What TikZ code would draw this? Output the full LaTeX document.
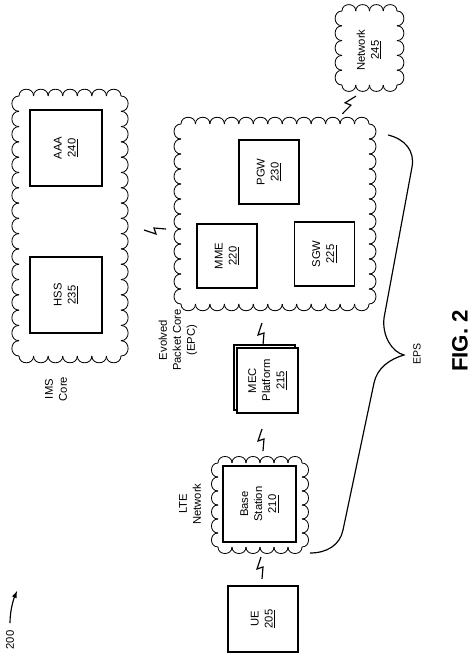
\documentclass[tikz,border=0pt]{standalone}
\usepackage{fontspec}
\setmainfont{Liberation Sans}
\usetikzlibrary{arrows,calc}

\tikzset{
  box/.style={draw, line width=1.1pt, rotate=90, align=center, inner sep=0pt, fill=white, font=\fontsize{9.6}{12}\selectfont},
  lbl/.style={rotate=90, align=center, inner sep=1pt, font=\fontsize{9.6}{12}\selectfont},
  cloudline/.style={line width=0.7pt},
  bolt/.style={line width=1pt, line join=miter},
}

\def\bump{15}
\def\puff{0.62}

% scalloped outline round a rectangle (pixel units)
\newcommand{\cloudbox}[4]{%
  \pgfmathsetmacro{\cw}{#3-#1}
  \pgfmathsetmacro{\ch}{#4-#2}
  \pgfmathtruncatemacro{\nx}{max(2,round(\cw/\bump))}
  \pgfmathtruncatemacro{\ny}{max(2,round(\ch/\bump))}
  \pgfmathsetmacro{\sx}{\cw/\nx}
  \pgfmathsetmacro{\sy}{\ch/\ny}
  \foreach \i in {1,...,\nx}{
    \draw[cloudline] ({#1+(\i-1)*\sx},#2) .. controls +(0,-\puff*\sx) and +(0,-\puff*\sx) .. ({#1+\i*\sx},#2);
    \draw[cloudline] ({#1+(\i-1)*\sx},#4) .. controls +(0,\puff*\sx) and +(0,\puff*\sx) .. ({#1+\i*\sx},#4);
  }
  \foreach \j in {1,...,\ny}{
    \draw[cloudline] (#1,{#2+(\j-1)*\sy}) .. controls +(-\puff*\sy,0) and +(-\puff*\sy,0) .. (#1,{#2+\j*\sy});
    \draw[cloudline] (#3,{#2+(\j-1)*\sy}) .. controls +(\puff*\sy,0) and +(\puff*\sy,0) .. (#3,{#2+\j*\sy});
  }
}

% lightning link symbol
\newcommand{\zap}[2]{\draw[bolt, shift={(#1)}, rotate=#2] (1,-11) -- (-3,1) -- (3,-1) -- (2,11);}

\begin{document}
\begin{tikzpicture}[x=0.03cm, y=-0.03cm]

\useasboundingbox (0,0) rectangle (474,663);

% clouds
\cloudbox{19}{96}{121}{356}
\cloudbox{181}{124}{369}{304}
\cloudbox{218}{463}{302}{547}
\cloudbox{342}{11}{397}{85}

% boxes
\node[box, minimum width=1.98cm, minimum height=2.10cm] (ue) at (263,619) {UE\\\underline{205}};
\node[box, minimum width=2.28cm, minimum height=2.19cm] (bs) at (259.5,504) {Base\\Station\\\underline{210}};
\node[box, minimum width=1.95cm, minimum height=1.83cm] (mecback) at (264.5,377.5) {};
\node[box, minimum width=1.95cm, minimum height=1.83cm] (mec) at (267.5,380.5) {MEC\\Platform\\\underline{215}};
\node[box, minimum width=1.92cm, minimum height=1.80cm] (mme) at (227,256) {MME\\\underline{220}};
\node[box, minimum width=1.92cm, minimum height=1.80cm] (sgw) at (324.5,254) {SGW\\\underline{225}};
\node[box, minimum width=1.92cm, minimum height=1.80cm] (pgw) at (269,172) {PGW\\\underline{230}};
\node[box, minimum width=2.28cm, minimum height=2.16cm] (hss) at (66,295) {HSS\\\underline{235}};
\node[box, minimum width=2.28cm, minimum height=2.16cm] (aaa) at (66,148) {AAA\\\underline{240}};

% labels
\node[lbl] (net) at (369,50) {Network\\\underline{245}};
\node[lbl] (ims) at (56,389) {IMS\\Core};
\node[lbl] (epc) at (178,340) {Evolved\\Packet Core\\(EPC)};
\node[lbl] (lte) at (190,504) {LTE\\Network};
\node[lbl, font=\fontsize{9}{11}\selectfont] (eps) at (417,354) {EPS};
\node[lbl, font=\bfseries\fontsize{19}{22}\selectfont] (fig) at (460,341) {FIG. 2};
\node[lbl] (ref) at (10,640) {200};

% links
\coordinate (z1) at (260,568);
\coordinate (z2) at (261,440);
\coordinate (z3) at (261,334);
\coordinate (z4) at (155,231);
\coordinate (z5) at (348,104);
\zap{z1}{0}
\zap{z2}{0}
\zap{z3}{0}
\zap{z4}{90}
\zap{z5}{-40}

% EPS brace
\coordinate (tip) at (404,355);
\draw[line width=1pt] (388,135) .. controls (405,139) and (415,151) .. (412,167) -- (384,318)
  .. controls (382,336) and (392,352) .. (tip)
  .. controls (390,359) and (377,368) .. (374,383) -- (343,530)
  .. controls (340,545) and (327,553) .. (310,553);

\draw[-latex, line width=1pt] ($(ref.east)+(0,-6)$) .. controls +(0,-14) and +(-3,7) .. (17,591);

\end{tikzpicture}
\end{document}
